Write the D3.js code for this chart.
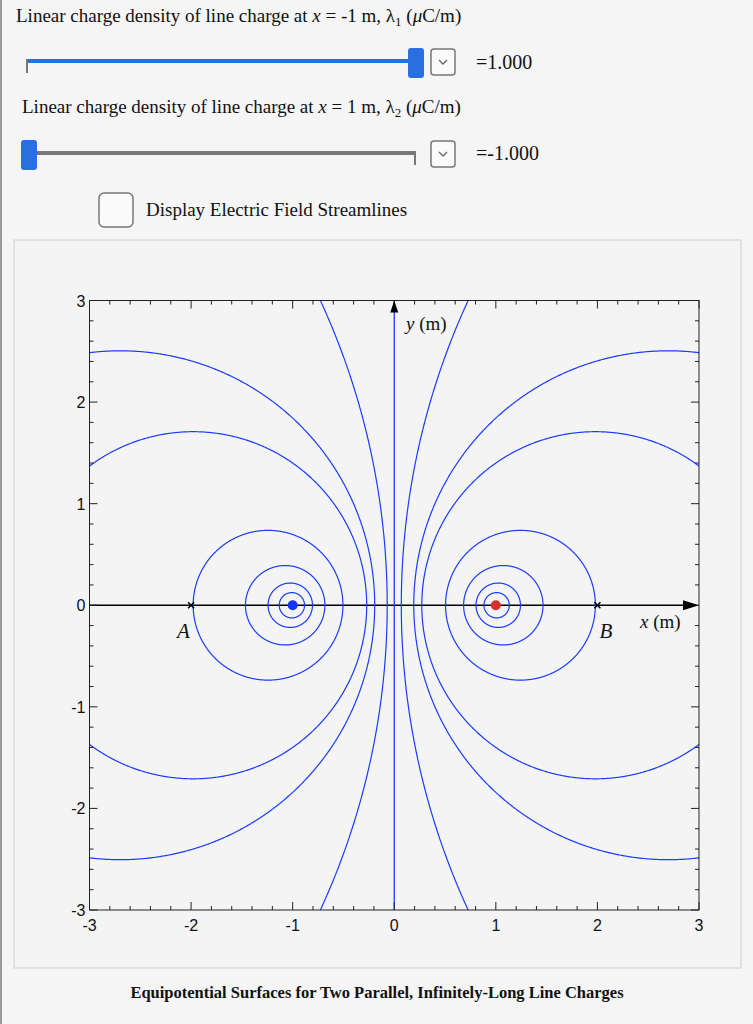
<!DOCTYPE html>
<html><head><meta charset="utf-8">
<script src="https://cdn.jsdelivr.net/npm/d3@7"></script>
<style>
body{margin:0;background:#f5f5f5;font-family:"Liberation Serif","Times New Roman",serif;}
</style></head>
<body><svg id="c" width="753" height="1024"></svg>
<script>
// potential levels (kV) for λ = ±1 µC/m, k = 2λ/(4πε0) ≈ 17.98 kV
const lambda1 = 1.000, lambda2 = -1.000;
const chargeX = [-1, 1];
const levels = [0, 2.5, 7, 10, 20, 30, 40, 50];
const xTicks = [-3,-2,-1,0,1,2,3];
const yTicks = [-3,-2,-1,0,1,2,3];
const K = 17.98;

const svg = d3.select("#c");
svg.append("rect").attr("x",0).attr("y",0).attr("width",2).attr("height",1024).attr("fill","#999");
const t = (x,y,s,o={})=>svg.append("text").attr("x",x).attr("y",y).style("font-size",(o.fs||17)+"px").attr("fill","#111").html(s);
t(16,22,'Linear charge density of line charge at <tspan font-style="italic">x</tspan> = -1 m, λ<tspan style="font-size:13px" dy="4">1</tspan><tspan dy="-4"> (</tspan><tspan font-style="italic">μ</tspan>C/m)',{fs:19});
t(22,113,'Linear charge density of line charge at <tspan font-style="italic">x</tspan> = 1 m, λ<tspan style="font-size:13px" dy="4">2</tspan><tspan dy="-4"> (</tspan><tspan font-style="italic">μ</tspan>C/m)',{fs:19});
svg.append("rect").attr("x",27).attr("y",59).attr("width",383).attr("height",4).attr("fill","#2a6fe0");
svg.append("rect").attr("x",26).attr("y",59).attr("width",2).attr("height",14).attr("fill","#777");
svg.append("rect").attr("x",408).attr("y",48).attr("width",16).attr("height",30).attr("rx",3).attr("fill","#2a6fe0");
svg.append("rect").attr("x",36).attr("y",151).attr("width",380).attr("height",4).attr("fill","#777");
svg.append("rect").attr("x",414).attr("y",151).attr("width",2).attr("height",14).attr("fill","#777");
svg.append("rect").attr("x",21).attr("y",140).attr("width",16).attr("height",30).attr("rx",3).attr("fill","#2a6fe0");
[[431,49],[431,141]].forEach(([x,y])=>{
  svg.append("rect").attr("x",x).attr("y",y).attr("width",24).attr("height",26).attr("rx",3).attr("fill","#fafafa").attr("stroke","#777").attr("stroke-width",1.5);
  svg.append("path").attr("d",`M${x+8},${y+11}l4,4l4,-4`).attr("fill","none").attr("stroke","#666").attr("stroke-width",1.3);
});
t(476,69,"=1.000",{fs:20});
t(476,160,"=-1.000",{fs:20});
svg.append("rect").attr("x",99).attr("y",193).attr("width",34).attr("height",34).attr("rx",5).attr("fill","#fafafa").attr("stroke","#777").attr("stroke-width",1.5);
t(146,216,"Display Electric Field Streamlines",{fs:19});

svg.append("rect").attr("x",14).attr("y",240).attr("width",727).attr("height",728).attr("fill","#f4f4f4").attr("stroke","#d0d0d0");
t(377,998,"Equipotential Surfaces for Two Parallel, Infinitely-Long Line Charges",{fs:16.5}).attr("text-anchor","middle").attr("font-weight","bold");

const X = d3.scaleLinear().domain([-3,3]).range([89.5,699]);
const Y = d3.scaleLinear().domain([-3,3]).range([910,300.5]);
svg.append("clipPath").attr("id","clp").append("rect").attr("x",X(-3)).attr("y",Y(3)).attr("width",X(3)-X(-3)).attr("height",Y(-3)-Y(3));
const g = svg.append("g").attr("clip-path","url(#clp)");

const minor = d3.range(-3,3.001,0.2);
const tk = svg.append("g").attr("stroke","#222").attr("stroke-width",1);
minor.forEach(v=>{
  const major = Math.abs(v-Math.round(v))<1e-6, L = major?8:4;
  tk.append("line").attr("x1",X(v)).attr("x2",X(v)).attr("y1",Y(3)).attr("y2",Y(3)+L);
  tk.append("line").attr("x1",X(v)).attr("x2",X(v)).attr("y1",Y(-3)).attr("y2",Y(-3)-L);
  tk.append("line").attr("y1",Y(v)).attr("y2",Y(v)).attr("x1",X(-3)).attr("x2",X(-3)+L);
  tk.append("line").attr("y1",Y(v)).attr("y2",Y(v)).attr("x1",X(3)).attr("x2",X(3)-L);
});
svg.append("rect").attr("x",X(-3)).attr("y",Y(3)).attr("width",X(3)-X(-3)).attr("height",Y(-3)-Y(3)).attr("fill","none").attr("stroke","#222");
xTicks.forEach(v=>t(X(v),931,v,{fs:16}).attr("text-anchor","middle").style("font-family","'Liberation Sans',Arial,sans-serif"));
yTicks.forEach(v=>t(X(-3)-4,Y(v)+6,v,{fs:16}).attr("text-anchor","end").style("font-family","'Liberation Sans',Arial,sans-serif"));

g.append("line").attr("x1",X(-3)).attr("x2",X(3)-8).attr("y1",Y(0)).attr("y2",Y(0)).attr("stroke","#000").attr("stroke-width",1.3);
svg.append("path").attr("d",`M${X(3)},${Y(0)}l-16,-5v10z`).attr("fill","#000");
svg.append("path").attr("d",`M${X(0)},${Y(3)}l-4,12h8z`).attr("fill","#000");

const line = d3.line().x(d=>X(d[0])).y(d=>Y(d[1]));
levels.forEach(V=>{
  if(V===0){
    g.append("path").attr("d",line([[0,-3],[0,3]])).attr("stroke","#1a3cff").attr("stroke-width",1.3).attr("fill","none");
    return;
  }
  const k = Math.exp(-V/K);
  const c = (1+k*k)/(1-k*k), r = 2*k/(1-k*k);
  [-1,1].forEach(s=>{
    const pts = d3.range(0,2*Math.PI+0.001,Math.PI/720).map(a=>[s*c + r*Math.cos(a), r*Math.sin(a)]);
    g.append("path").attr("d",line(pts)).attr("stroke","#1a3cff").attr("stroke-width",1.2).attr("fill","none");
  });
});
g.append("circle").attr("cx",X(chargeX[0])).attr("cy",Y(0)).attr("r",5).attr("fill","#1533ff");
g.append("circle").attr("cx",X(chargeX[1])).attr("cy",Y(0)).attr("r",5).attr("fill","#d63030");
[[-2,"A",-16],[2,"B",0]].forEach(([x,l,dx])=>{
  svg.append("path").attr("d",`M${X(x)-3},${Y(0)-3}l6,6m0,-6l-6,6`).attr("stroke","#000").attr("stroke-width",1.5);
  t(X(x)+dx+2,Y(0)+33,l,{fs:21}).attr("font-style","italic");
});
t(406,330,'<tspan font-style="italic">y</tspan> (m)',{fs:19});
t(640,628,'<tspan font-style="italic">x</tspan> (m)',{fs:19});
</script></body></html>
